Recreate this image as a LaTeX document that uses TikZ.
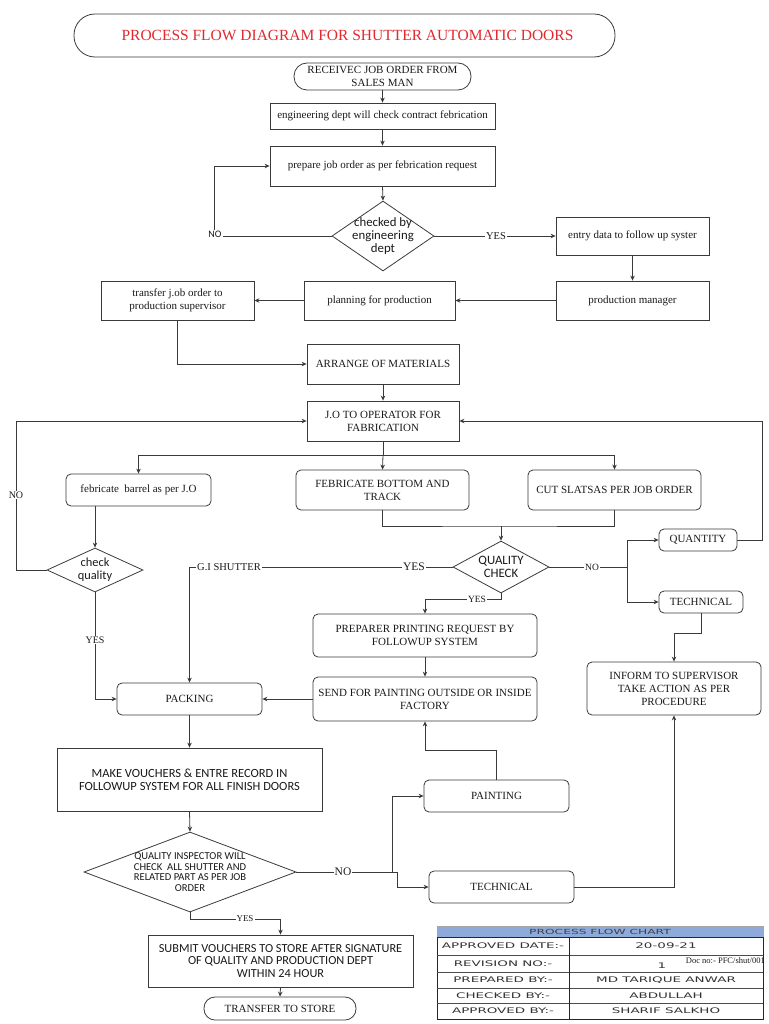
\documentclass[tikz,border=0pt]{standalone}
\usepackage{fontspec}
\setmainfont{Liberation Serif}
\newfontfamily\calfont{Carlito}
\newfontfamily\tabfont[FakeStretch=1.75]{DejaVu Sans}
\usetikzlibrary{arrows.meta,shapes.geometric}
\definecolor{titlered}{HTML}{E0282E}
\definecolor{linec}{HTML}{3A3A3A}
\definecolor{hdrblue}{HTML}{8EAADB}
\begin{document}
\begin{tikzpicture}[x=1pt,y=-1pt,
  every node/.style={text=black!90, inner sep=1pt},
  conn/.style={draw=linec, line width=0.8pt},
  arr/.style={conn, -{Stealth[length=5pt,width=4.5pt]}},
  box/.style={draw=linec, line width=0.8pt, rectangle, align=center, font=\fontsize{11}{13}\selectfont, inner sep=0pt},
  rbox/.style={box, rounded corners=5pt},
  dia/.style={draw=linec, line width=0.8pt, diamond, inner sep=0pt},
  dtext/.style={align=center, font=\calfont\fontsize{12.8}{13}\selectfont},
  lbl/.style={fill=white, inner sep=1pt, font=\fontsize{10.5}{12}\selectfont},
  tabtxt/.style={font=\tabfont\fontsize{7.7}{8}\selectfont, text=black!80, inner sep=0pt},
]
\useasboundingbox (0,0) rectangle (768,1024);

% title
\node[draw=linec, line width=0.8pt, rounded corners=21pt, minimum width=541, minimum height=43, inner sep=0pt,
      text=titlered, font=\fontsize{15.5}{18}\selectfont] (title) at (344.5,35.5) {\hspace*{6pt}PROCESS FLOW DIAGRAM FOR SHUTTER AUTOMATIC DOORS};

% top section
\node[box, rounded corners=13pt, minimum width=177, minimum height=27, font=\fontsize{11}{12.6}\selectfont] (recv) at (382.5,76.5) {RECEIVEC JOB ORDER FROM\\SALES MAN};
\node[box, minimum width=225, minimum height=26] (eng) at (382.5,116) {engineering dept will check contract febrication};
\node[box, minimum width=225, minimum height=40] (prep) at (382.5,166) {prepare job order as per febrication request};
\node[dia, minimum width=102, minimum height=70] (chk1) at (383,236) {};
\node[dtext] (chk1t) at (383,236) {checked by\\engineering\\dept};
\node[box, minimum width=153, minimum height=38] (entry) at (632.5,236) {entry data to follow up syster};
\node[box, minimum width=153, minimum height=39] (pm) at (632.5,300.5) {production manager};
\node[box, minimum width=151, minimum height=39] (plan) at (379.5,300.5) {planning for production};
\node[box, minimum width=153, minimum height=39] (transfer) at (177.5,300.5) {transfer j.ob order to\\production supervisor};
\node[box, minimum width=152, minimum height=40] (arrange) at (383,364) {ARRANGE OF MATERIALS};
\node[box, minimum width=152, minimum height=40] (jo) at (383,421) {J.O TO OPERATOR FOR\\FABRICATION};

% fabrication
\node[rbox, minimum width=145, minimum height=32] (barrel) at (138.5,490) {febricate\ \ barrel as per J.O};
\node[rbox, minimum width=173, minimum height=40] (fbottom) at (382.5,490) {FEBRICATE BOTTOM AND\\TRACK};
\node[rbox, minimum width=173, minimum height=40] (cut) at (614.5,490) {CUT SLATSAS PER JOB ORDER};
\node[dia, minimum width=96, minimum height=52] (qc) at (501,567) {};
\node[dtext] (qct) at (501,567) {QUALITY\\CHECK};
\node[dia, minimum width=96, minimum height=44] (cq) at (95,570) {};
\node[dtext, font=\calfont\fontsize{12.4}{13}\selectfont] (cqt) at (95,570) {check\\quality};
\node[rbox, minimum width=78, minimum height=22] (quantity) at (698,540) {QUANTITY};
\node[rbox, minimum width=84, minimum height=22] (tech1) at (701,602) {TECHNICAL};

% middle
\node[rbox, minimum width=224, minimum height=43] (preparer) at (425,635.5) {PREPARER PRINTING REQUEST BY\\FOLLOWUP SYSTEM};
\node[rbox, minimum width=224, minimum height=44] (send) at (425,699) {SEND FOR PAINTING OUTSIDE OR INSIDE\\FACTORY};
\node[rbox, minimum width=145, minimum height=32] (packing) at (189.5,699) {PACKING};
\node[rbox, minimum width=174, minimum height=53] (inform) at (674,688.5) {INFORM TO SUPERVISOR\\TAKE ACTION AS PER\\PROCEDURE};
\node[box, minimum width=265, minimum height=63, font=\calfont\fontsize{12.5}{13}\selectfont] (make) at (189.5,779.5) {MAKE VOUCHERS \& ENTRE RECORD IN\\FOLLOWUP SYSTEM FOR ALL FINISH DOORS};
\node[dia, minimum width=212, minimum height=80] (qi) at (190,872) {};
\node[dtext, font=\calfont\fontsize{10.6}{10.7}\selectfont] (qit) at (190,872) {QUALITY INSPECTOR WILL\\CHECK\ \ ALL SHUTTER AND\\RELATED PART AS PER JOB\\ORDER};
\node[rbox, minimum width=145, minimum height=32] (painting) at (496.5,796) {PAINTING};
\node[rbox, minimum width=145, minimum height=32] (tech2) at (501.5,887) {TECHNICAL};
\node[box, minimum width=265, minimum height=52, font=\calfont\fontsize{12.3}{12.7}\selectfont] (submit) at (280.5,961) {SUBMIT VOUCHERS TO STORE AFTER SIGNATURE\\OF QUALITY AND PRODUCTION DEPT\\WITHIN 24 HOUR};
\node[box, rounded corners=11pt, minimum width=152, minimum height=23] (store) at (280,1008.5) {TRANSFER TO STORE};

% connectors top
\draw[arr] (recv.south) -- (eng.north);
\draw[arr] (eng.south) -- (prep.north);
\draw[arr] (prep.south) -- (chk1.north);
\coordinate (nocorner) at (214,236);
\draw[arr] (chk1.west) -- (nocorner) -- (214,166) -- (prep.west);
\node[lbl, font=\calfont\fontsize{10}{11}\selectfont] (nolbl1) at (215,234) {NO};
\draw[arr] (chk1.east) -- (entry.west);
\node[lbl] (yeslbl1) at (496,236) {YES};
\draw[arr] (entry.south) -- (pm.north);
\draw[arr] (pm.west) -- (plan.east);
\draw[arr] (plan.west) -- (transfer.east);
\draw[arr] (transfer.south) |- (arrange.west);
\draw[arr] (arrange.south) -- (jo.north);

% branch
\coordinate (br) at (383,455);
\draw[conn] (jo.south) -- (br);
\draw[arr] (br) -| (barrel.north);
\draw[arr] (br) -- (fbottom.north);
\draw[arr] (br) -| (cut.north);
\coordinate (merge) at (501,526);
\draw[conn] (fbottom.south) |- (merge) -| (cut.south);
\draw[arr] (merge) -- (qc.north);

% check quality loop
\draw[arr] (cq.north |- barrel.south) -- (cq.north);
\draw[arr] (cq.west) -- (16,570) -- (16,421) -- (jo.west);
\node[lbl, font=\fontsize{10}{11}\selectfont] (nolbl2) at (16,495) {NO};
\draw[arr] (cq.south) |- (packing.west);
\node[lbl, font=\fontsize{10}{11}\selectfont] (yeslbl2) at (95,640) {YES};

% quality check outputs
\draw[arr] (qc.west) -| (packing.north);
\node[lbl, font=\fontsize{11.5}{12}\selectfont] (yeslbl3) at (414,567) {YES};
\node[lbl] (gilbl) at (229,567) {G.I SHUTTER};
\draw[arr] (qc.south) -- (501,599) -| (preparer.north);
\node[lbl, font=\fontsize{9.5}{11}\selectfont] (yeslbl4) at (477,599) {YES};
\coordinate (nosplit) at (627,567);
\draw[conn] (qc.east) -- (nosplit);
\node[lbl, font=\fontsize{9.5}{11}\selectfont] (nolbl3) at (592,567) {NO};
\draw[arr] (nosplit) |- (quantity.west);
\draw[arr] (nosplit) |- (tech1.west);
\draw[arr] (quantity.east) -| (762,421) -- (jo.east);
\draw[arr] (tech1.south) -- (701,633) -| (inform.north);

% middle connectors
\draw[arr] (preparer.south) -- (send.north);
\draw[arr] (send.west) -- (packing.east);
\draw[arr] (packing.south) -- (make.north);
\draw[arr] (make.south) -- (qi.north);
\coordinate (nosplit2) at (392,872);
\draw[conn] (qi.east) -- (nosplit2);
\node[lbl, font=\fontsize{11.5}{12}\selectfont] (nolbl4) at (343,872) {NO};
\draw[arr] (nosplit2) |- (painting.west);
\draw[arr] (nosplit2) -- (397,872) |- (tech2.west);
\draw[arr] (painting.north) -- (496.5,750) -| (send.south);
\draw[arr] (tech2.east) -| (inform.south);
\draw[arr] (qi.south) -- (190,919) -| (submit.north);
\node[lbl, font=\fontsize{9}{10}\selectfont] (yeslbl5) at (245,919) {YES};
\draw[arr] (submit.south) -- (store.north);

% table
\fill[hdrblue] (437,926) rectangle (763,937);
\draw[black!35, line width=0.4pt] (437,926) rectangle (763,937);
\draw[black!85, line width=0.8pt] (437,937) rectangle (763,1019);
\foreach \yy in {955,972,988,1003} \draw[black!70, line width=0.8pt] (437,\yy) -- (763,\yy);
\draw[black!85, line width=0.8pt] (569,937) -- (569,1019);
\node[tabtxt, font=\tabfont\fontsize{7}{7}\selectfont, text=black!75] (th) at (600,932) {PROCESS FLOW CHART};
\node[tabtxt] (ta1) at (503,946) {APPROVED DATE:-};
\node[tabtxt] (tb1) at (666,946) {20-09-21};
\node[tabtxt] (ta2) at (503,964) {REVISION NO:-};
\node[tabtxt] (tb2) at (662,966) {1};
\node[font=\fontsize{8.5}{9}\selectfont, inner sep=0pt, anchor=east] (doc) at (765,961) {Doc no:- PFC/shut/001};
\node[tabtxt] (ta3) at (503,980) {PREPARED BY:-};
\node[tabtxt] (tb3) at (666,980) {MD TARIQUE ANWAR};
\node[tabtxt] (ta4) at (503,996) {CHECKED BY:-};
\node[tabtxt] (tb4) at (666,996) {ABDULLAH};
\node[tabtxt] (ta5) at (503,1011) {APPROVED BY:-};
\node[tabtxt] (tb5) at (666,1011) {SHARIF SALKHO};
\end{tikzpicture}
\end{document}
